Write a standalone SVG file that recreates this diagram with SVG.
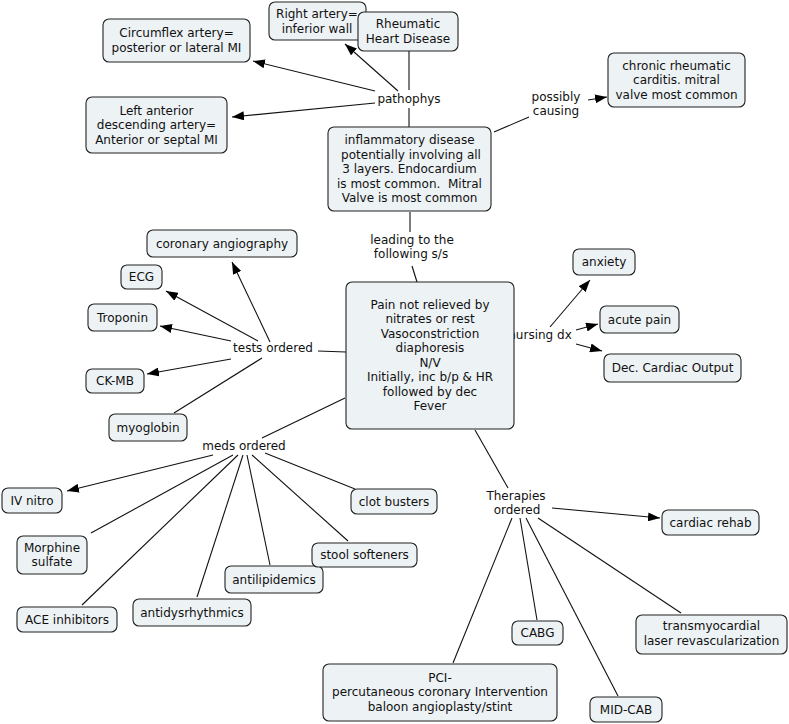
<svg xmlns="http://www.w3.org/2000/svg" width="789" height="724" viewBox="0 0 789 724">
<defs>
<marker id="ah" markerUnits="userSpaceOnUse" markerWidth="12" markerHeight="9" refX="12" refY="4.5" orient="auto">
<path d="M0,0 L12,4.5 L0,9 z" fill="#000"/>
</marker>
<style>
.n rect{fill:#edf2f5;stroke:#222;stroke-width:1.1}
text{font-family:"DejaVu Sans","Liberation Sans",sans-serif;font-size:12px;fill:#111;text-anchor:middle;white-space:pre}
#connectors line{stroke:#111;stroke-width:1.1}
#connectors line.a{marker-end:url(#ah)}
</style>
</defs>
<rect width="789" height="724" fill="#fff"/>
<g id="labels">
<text x="409" y="103">pathophys</text>
<text x="556" y="101">possibly</text>
<text x="556" y="115">causing</text>
<text x="412" y="244">leading to the</text>
<text x="411" y="258">following s/s</text>
<text x="540" y="339">nursing dx</text>
<text x="273" y="352">tests ordered</text>
<text x="244" y="450">meds ordered</text>
<text x="516" y="500">Therapies</text>
<text x="517" y="514">ordered</text>
</g>
<g id="connectors">
<line x1="409" y1="51" x2="409" y2="90"/>
<line x1="409" y1="108" x2="409" y2="127"/>
<line class="a" x1="398" y1="91" x2="345" y2="44"/>
<line class="a" x1="375" y1="91" x2="253" y2="61"/>
<line class="a" x1="375" y1="103" x2="232" y2="117"/>
<line x1="494" y1="132" x2="529" y2="117"/>
<line class="a" x1="588" y1="100" x2="607" y2="97"/>
<line x1="410" y1="212" x2="410" y2="232"/>
<line x1="412" y1="266" x2="417" y2="282"/>
<line class="a" x1="550" y1="327" x2="590" y2="280"/>
<line class="a" x1="576" y1="330" x2="598" y2="324"/>
<line class="a" x1="576" y1="344" x2="602" y2="351"/>
<line x1="318" y1="351" x2="346" y2="352"/>
<line class="a" x1="270" y1="342" x2="232" y2="262"/>
<line class="a" x1="258" y1="341" x2="166" y2="291"/>
<line class="a" x1="231" y1="341" x2="160" y2="326"/>
<line class="a" x1="231" y1="359" x2="147" y2="374"/>
<line x1="262" y1="358" x2="174" y2="413"/>
<line x1="345" y1="398" x2="262" y2="438"/>
<line class="a" x1="213" y1="455" x2="67" y2="491"/>
<line x1="233" y1="455" x2="91" y2="533"/>
<line x1="238" y1="455" x2="82" y2="605"/>
<line x1="243" y1="455" x2="197" y2="597"/>
<line x1="247" y1="455" x2="270" y2="565"/>
<line x1="252" y1="455" x2="348" y2="541"/>
<line x1="265" y1="453" x2="355" y2="489"/>
<line x1="475" y1="430" x2="508" y2="488"/>
<line class="a" x1="552" y1="508" x2="660" y2="518"/>
<line x1="520" y1="518" x2="537" y2="620"/>
<line x1="512" y1="518" x2="453" y2="663"/>
<line x1="526" y1="518" x2="618" y2="696"/>
<line x1="538" y1="518" x2="681" y2="613"/>
</g>
<g id="right-artery" class="n"><rect x="269" y="2" width="97" height="38" rx="6"/><text x="317" y="18">Right artery=</text><text x="317" y="33">inferior wall</text></g>
<g id="rheumatic" class="n"><rect x="358" y="12" width="100" height="39" rx="6"/><text x="408" y="28">Rheumatic</text><text x="408" y="42.5">Heart Disease</text></g>
<g id="circumflex" class="n"><rect x="103" y="19" width="147" height="43" rx="6"/><text x="176.5" y="37.3">Circumflex artery=</text><text x="176.5" y="51.8">posterior or lateral MI</text></g>
<g id="lad" class="n"><rect x="86" y="97" width="141" height="56" rx="6"/><text x="156.5" y="114.5">Left anterior</text><text x="156.5" y="129">descending artery=</text><text x="156.5" y="143.5">Anterior or septal MI</text></g>
<g id="inflammatory" class="n"><rect x="328" y="127" width="163" height="84" rx="6"/><text x="409.5" y="144">inflammatory disease</text><text x="411" y="158.5">potentially involving all</text><text x="409.5" y="173">3 layers. Endocardium</text><text x="409.5" y="187.5">is most common.  Mitral</text><text x="409.5" y="202">Valve is most common</text></g>
<g id="chronic" class="n"><rect x="608" y="53" width="137" height="54" rx="6"/><text x="676.5" y="69.5">chronic rheumatic</text><text x="676.5" y="84">carditis. mitral</text><text x="676.5" y="98.5">valve most common</text></g>
<g id="main" class="n"><rect x="346" y="282" width="168" height="147" rx="6"/><text x="430" y="308.5">Pain not relieved by</text><text x="430" y="323">nitrates or rest</text><text x="430" y="337.5">Vasoconstriction</text><text x="430" y="352">diaphoresis</text><text x="430" y="366.5">N/V</text><text x="430" y="381">Initially, inc b/p &amp; HR</text><text x="430" y="395.5">followed by dec</text><text x="430" y="410">Fever</text></g>
<g id="anxiety" class="n"><rect x="573" y="249" width="62" height="26" rx="6"/><text x="604" y="266">anxiety</text></g>
<g id="acute-pain" class="n"><rect x="600" y="306" width="79" height="27" rx="6"/><text x="639.5" y="323.5">acute pain</text></g>
<g id="dec-co" class="n"><rect x="604" y="354" width="137" height="28" rx="6"/><text x="672.5" y="372">Dec. Cardiac Output</text></g>
<g id="coronary" class="n"><rect x="147" y="230" width="150" height="27" rx="6"/><text x="222" y="247.5">coronary angiography</text></g>
<g id="ecg" class="n"><rect x="121" y="265" width="41" height="24" rx="6"/><text x="141.5" y="281">ECG</text></g>
<g id="troponin" class="n"><rect x="88" y="304" width="69" height="27" rx="6"/><text x="122.5" y="321.5">Troponin</text></g>
<g id="ckmb" class="n"><rect x="86" y="369" width="58" height="24" rx="6"/><text x="115" y="385">CK-MB</text></g>
<g id="myoglobin" class="n"><rect x="109" y="414" width="78" height="27" rx="6"/><text x="148" y="431.5">myoglobin</text></g>
<g id="iv-nitro" class="n"><rect x="2" y="488" width="60" height="25" rx="6"/><text x="32" y="504.5">IV nitro</text></g>
<g id="morphine" class="n"><rect x="17" y="536" width="70" height="38" rx="6"/><text x="52" y="551.8">Morphine</text><text x="52" y="566.3">sulfate</text></g>
<g id="ace" class="n"><rect x="17" y="607" width="100" height="25" rx="6"/><text x="67" y="623.5">ACE inhibitors</text></g>
<g id="antidys" class="n"><rect x="133" y="599" width="118" height="27" rx="6"/><text x="192" y="616.5">antidysrhythmics</text></g>
<g id="antilip" class="n"><rect x="225" y="566" width="98" height="27" rx="6"/><text x="274" y="583.5">antilipidemics</text></g>
<g id="stool" class="n"><rect x="312" y="543" width="105" height="24" rx="6"/><text x="364.5" y="559">stool softeners</text></g>
<g id="clot" class="n"><rect x="351" y="489" width="86" height="25" rx="6"/><text x="394" y="505.5">clot busters</text></g>
<g id="cardiac-rehab" class="n"><rect x="662" y="510" width="97" height="25" rx="6"/><text x="710.5" y="526.5">cardiac rehab</text></g>
<g id="cabg" class="n"><rect x="512" y="621" width="51" height="24" rx="6"/><text x="537.5" y="637">CABG</text></g>
<g id="pci" class="n"><rect x="323" y="664" width="234" height="57" rx="6"/><text x="440" y="681.5">PCI-</text><text x="440" y="696">percutaneous coronary Intervention</text><text x="440" y="710.5">baloon angioplasty/stint</text></g>
<g id="midcab" class="n"><rect x="590" y="697" width="72" height="25" rx="6"/><text x="626" y="713.5">MID-CAB</text></g>
<g id="tmlr" class="n"><rect x="636" y="615" width="151" height="39" rx="6"/><text x="711.5" y="630.3">transmyocardial</text><text x="711.5" y="644.8">laser revascularization</text></g>
</svg>
